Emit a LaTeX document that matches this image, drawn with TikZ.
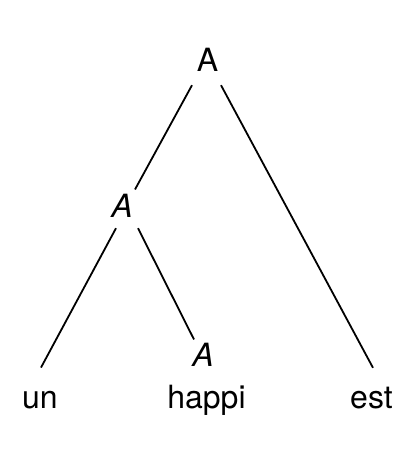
\documentclass[tikz,border=0pt]{standalone}
\usepackage{fontspec}
\setmainfont{TeX Gyre Heros}
\begin{document}
\begin{tikzpicture}[x=1pt, y=1pt]
        \tikzstyle{word}=[inner sep=0pt, anchor=base,
            font=\fontsize{32}{38}\selectfont]
        \tikzstyle{edge}=[draw, line width=1.8pt]
        \useasboundingbox (0, 0) rectangle (413, 464);

        \node[word] (a0) at (207.5, 392) {A};
        \node[word] (a1) at (122, 246) {\textit{A}};
        \node[word] (a2) at (203, 97) {\textit{A}};
        \node[word] (un) at (40, 55) {un};
        \node[word] (happi) at (206.5, 55) {happi};
        \node[word] (est) at (371.5, 55) {est};

        \draw[edge] ([xshift=-15.5pt, yshift=-13pt]a0.south) to ([xshift=13pt, yshift=5pt]a1.north);
        \draw[edge] ([xshift=13.5pt, yshift=-13pt]a0.south) to ([xshift=1.5pt, yshift=19.6pt]est.north);
        \draw[edge] ([xshift=-6pt, yshift=-10pt]a1.south) to ([xshift=1pt, yshift=24pt]un.north);
        \draw[edge] ([xshift=16pt, yshift=-10pt]a1.south) to ([xshift=-9pt, yshift=4pt]a2.north);

    \end{tikzpicture}
\end{document}
